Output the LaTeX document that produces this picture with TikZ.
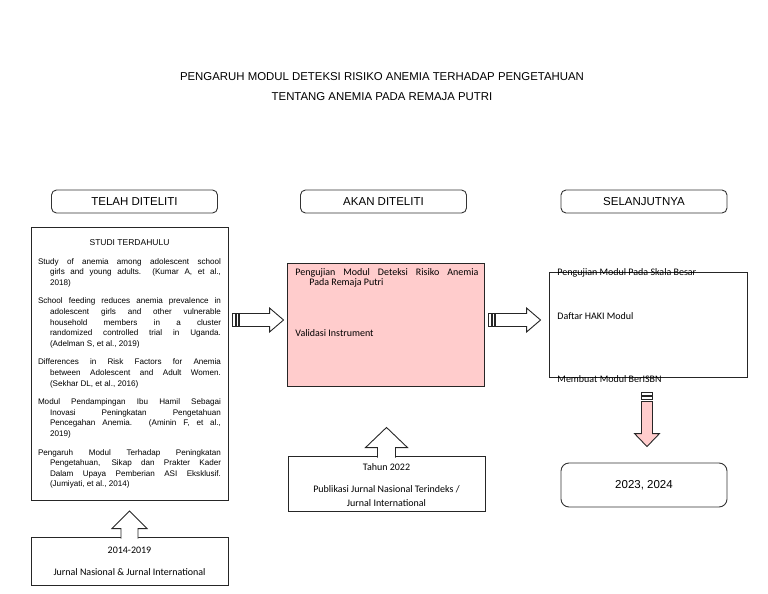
\documentclass[tikz,border=0pt]{standalone}
\usepackage{fontspec}
\setmainfont{Liberation Sans}
\newfontfamily\calibri{Carlito}
\usetikzlibrary{calc}

\definecolor{pinkfill}{RGB}{255,204,204}

\tikzset{
  hdr/.style={draw=black!80, rounded corners=5pt, minimum width=166pt, minimum height=23pt, inner sep=0pt, font=\fontsize{11.5}{14}\selectfont},
  panel/.style={draw=black!85, minimum width=197pt, inner sep=0pt},
  smalltxt/.style={font=\calibri\fontsize{10}{14}\selectfont, inner sep=0pt},
  blockarr/.style={draw=black!85, line join=miter},
}

\newcommand\refentry[1]{\par\hangindent=12pt\hangafter=1 #1\par}

\begin{document}
\begin{tikzpicture}[x=1pt, y=-1pt, line width=0.9pt]
\useasboundingbox (0,0) rectangle (768,594);

% title
\node[align=center, font=\fontsize{11.4}{20}\selectfont] (title) at (382,87)
  {PENGARUH MODUL DETEKSI RISIKO ANEMIA TERHADAP PENGETAHUAN\\TENTANG ANEMIA PADA REMAJA PUTRI};

% column heads
\foreach \t/\n/\x in {TELAH DITELITI/hdrA/134.5, AKAN DITELITI/hdrB/383.5, SELANJUTNYA/hdrC/644}
  \node[hdr] (\n) at (\x,201.5) {\t};

% studi terdahulu
\node[panel, anchor=north, minimum height=273pt, inner xsep=7pt] (studi) at (129.5,227)
  {\parbox[t][273pt][t]{183pt}{\hbadness=10000
    \fontsize{8.1}{10.6}\selectfont\setlength{\parskip}{8pt}%
    {\centering\fontsize{8.5}{10.6}\selectfont\rule{0pt}{18pt}STUDI TERDAHULU\par}%
    \refentry{Study of anemia among adolescent school\linebreak girls and young adults.~~(Kumar A, et al.,\linebreak 2018)}
    \refentry{School feeding reduces anemia prevalence in\linebreak adolescent girls and other vulnerable\linebreak household members in a cluster\linebreak randomized controlled trial in Uganda.\linebreak (Adelman S, et al., 2019)}
    \refentry{Differences in Risk Factors for Anemia\linebreak between Adolescent and Adult Women.\linebreak (Sekhar DL, et al., 2016)}
    \refentry{Modul Pendampingan Ibu Hamil Sebagai\linebreak Inovasi Peningkatan Pengetahuan\linebreak Pencegahan Anemia. (Aminin F, et al.,\linebreak 2019)}
    \refentry{Pengaruh Modul Terhadap Peningkatan\linebreak Pengetahuan, Sikap dan Prakter Kader\linebreak Dalam Upaya Pemberian ASI Eksklusif.\linebreak (Jumiyati, et al., 2014)}}};

% akan diteliti
\node[panel, fill=pinkfill, minimum height=123pt] (uji) at (385.5,324.5) {};
\node[smalltxt, font=\calibri\fontsize{10}{10}\selectfont, anchor=north west, text width=183pt, align=justify] (ujiA) at (295,268.5)
  {\hangindent=14pt\hangafter=1 Pengujian Modul Deteksi Risiko Anemia\linebreak Pada Remaja Putri\par};
\node[smalltxt, anchor=base west] (ujiB) at (295,336) {Validasi Instrument};

% selanjutnya
\node[panel, minimum width=198pt, minimum height=105pt] (rhs) at (648,324.5) {};
\node[smalltxt, anchor=base west] (rhsA) at (557,275.5) {Pengujian Modul Pada Skala Besar};
\node[smalltxt, anchor=base west] (rhsB) at (557,319) {Daftar HAKI Modul};
\node[smalltxt, anchor=base west] (rhsC) at (557,382.5) {Membuat Modul BerISBN};

% sources and years
\node[panel, smalltxt, minimum height=48pt, align=center] (thn) at (129.5,561)
  {2014-2019\\[8pt]Jurnal Nasional \& Jurnal International};
\node[panel, smalltxt, minimum height=55pt, align=center] (pub) at (386.5,483.5)
  {\rule{0pt}{11pt}Tahun 2022\\[8pt]Publikasi Jurnal Nasional Terindeks /\\Jurnal International};
\node[hdr, minimum height=44pt, rounded corners=8pt] (thnB) at (644,485) {2023, 2024};

% striped arrows to the right
\foreach \src/\dst/\gap in {studi/uji/3, uji/rhs/8} {
  \coordinate (tail) at ($(\src.east |- \dst.west)+(4,-4.5)$);
  \coordinate (tip) at ($(\dst.west)+(-\gap,-4.5)$);
  \draw[blockarr, fill=white] ($(tail)+(7,-6.5)$) -- ($(tip)+(-14,-6.5)$) -- ($(tip)+(-14,-12)$)
    -- (tip) -- ($(tip)+(-14,12)$) -- ($(tip)+(-14,6.5)$) -- ($(tail)+(7,6.5)$) -- cycle;
  \draw[blockarr] ($(tail)+(0,-6.5)$) rectangle ($(tail)+(2.5,6.5)$)
    ($(tail)+(3.5,-6.5)$) rectangle ($(tail)+(6,6.5)$);
}

% up arrows
\foreach \lowbox/\highbox/\rise/\shaft/\headw in {thn/studi/10/8.5/17.5, pub/uji/41/9/21} {
  \coordinate (tip) at ($(\lowbox.north |- \highbox.south)+(0,\rise)$);
  \draw[blockarr, fill=white] ($(\lowbox.north)+(-\shaft,2)$) -- ($(\lowbox.north)+(-\shaft,-8)$)
    -- ($(\lowbox.north)+(-\headw,-8)$) -- (tip) -- ($(\lowbox.north)+(\headw,-8)$)
    -- ($(\lowbox.north)+(\shaft,-8)$) -- ($(\lowbox.north)+(\shaft,2)$);
}

% down arrow
\coordinate (dtail) at ($(rhs.south)+(-1,15)$);
\coordinate (dtip) at ($(thnB.north)+(3,-16)$);
\draw[blockarr, fill=white] ($(dtail)+(-5.5,0)$) rectangle ($(dtail)+(5.5,3)$)
  ($(dtail)+(-5.5,4)$) rectangle ($(dtail)+(5.5,7)$);
\draw[blockarr, fill=pinkfill] ($(dtail)+(-5.5,9)$) -- ($(dtip)+(-5.5,-13)$) -- ($(dtip)+(-12.5,-13)$)
  -- (dtip) -- ($(dtip)+(12.5,-13)$) -- ($(dtip)+(5.5,-13)$) -- ($(dtail)+(5.5,9)$) -- cycle;

\end{tikzpicture}
\end{document}
